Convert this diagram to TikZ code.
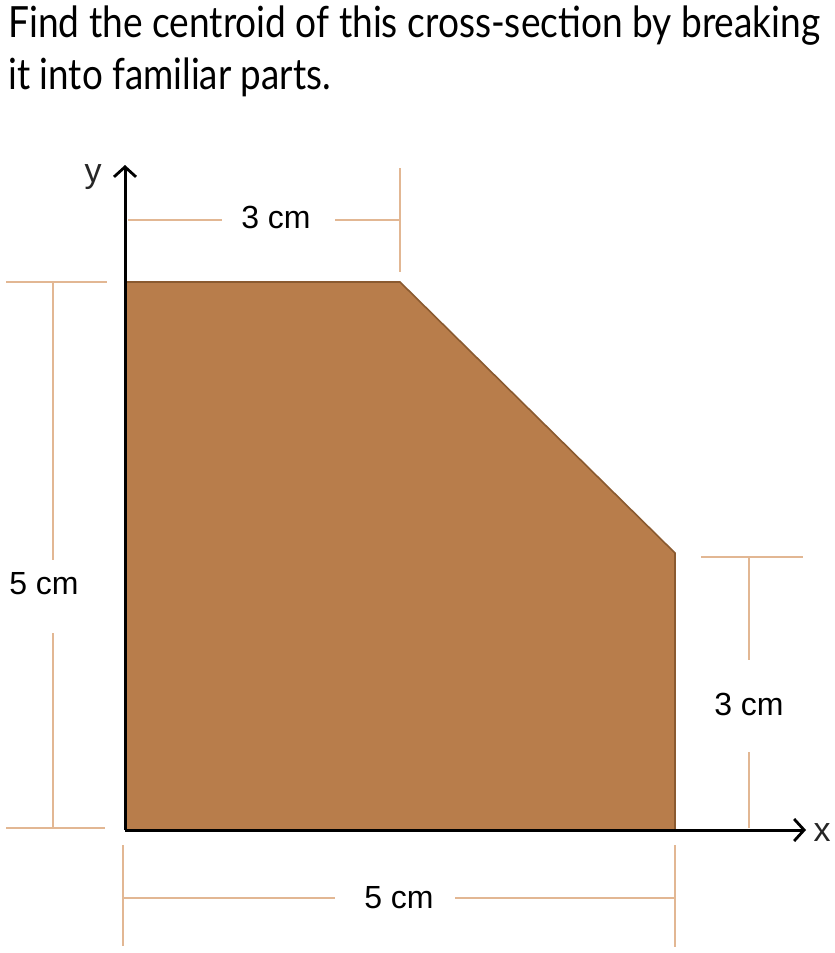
\documentclass[tikz,border=0pt]{standalone}
\usepackage{fontspec}
\usepackage{graphicx}
\setmainfont{Lato}
\setsansfont{Liberation Sans}
\usetikzlibrary{arrows.meta}

\definecolor{bois}{HTML}{B87D4B}
\definecolor{bord}{HTML}{8A5A30}
\definecolor{cote}{HTML}{E2B793}

\tikzset{
    axe/.style={line width=1.5pt, -{Straight Barb[length=5pt,width=11pt,line width=1.4pt]}},
    coteline/.style={color=cote, line width=0.8pt},
    cotelabel/.style={font=\sffamily\fontsize{16}{16}\selectfont, inner sep=0pt},
    enonce/.style={anchor=base west, inner sep=0pt, font=\fontsize{21.5}{21.5}\selectfont},
}

\begin{document}
\begin{tikzpicture}[x=0.5pt, y=-0.5pt]
    \useasboundingbox (0,0) rectangle (835,953);

    \coordinate (O) at (125,830);
    \coordinate (A) at (125,282);
    \coordinate (B) at (400,282);
    \coordinate (C) at (675,553);
    \coordinate (D) at (675,830);
    \coordinate (X) at (806,830);
    \coordinate (Y) at (125,165);

    % Énoncé
    \node[enonce] (q1) at (8,37) {\resizebox{406pt}{\height}{Find the centroid of this cross-section by breaking}};
    \node[enonce] (q2) at (8,89) {\scalebox{0.855}[1]{it into familiar parts.}};

    % Section
    \fill[color=bois] (O) -- (A) -- (B) -- (C) -- (D) -- cycle;
    \draw[color=bord, line width=0.8pt] (A) -- (B) -- (C) -- (D);

    % Axes
    \draw[axe] (O) -- (X);
    \draw[axe] (O) -- (Y);
    \node[cotelabel, color=black!85, font=\sffamily\fontsize{17}{17}\selectfont] (xl) at (822,833) {x};
    \node[cotelabel, color=black!85, font=\sffamily\fontsize{17}{17}\selectfont] (yl) at (93,177) {y};

    % Cote du haut
    \node[cotelabel] (c1) at (276,217) {3 cm};
    \draw[coteline] (128,220) -- (222,220);
    \draw[coteline] (335,220) -- (400,220);
    \draw[coteline] (400,168) -- (400,272);

    % Cote de gauche
    \node[cotelabel] (c2) at (44,584) {5 cm};
    \draw[coteline] (6,282) -- (107,282);
    \draw[coteline] (6,828) -- (105,828);
    \draw[coteline] (53,282) -- (53,560);
    \draw[coteline] (53,633) -- (53,828);

    % Cote de droite
    \node[cotelabel] (c3) at (749,704) {3 cm};
    \draw[coteline] (701,557) -- (803,557);
    \draw[coteline] (749,557) -- (749,660);
    \draw[coteline] (749,752) -- (749,828);

    % Cote du bas
    \node[cotelabel] (c4) at (399,898) {5 cm};
    \draw[coteline] (123,845) -- (123,946);
    \draw[coteline] (675,845) -- (675,947);
    \draw[coteline] (123,898) -- (335,898);
    \draw[coteline] (455,898) -- (675,898);
\end{tikzpicture}
\end{document}
